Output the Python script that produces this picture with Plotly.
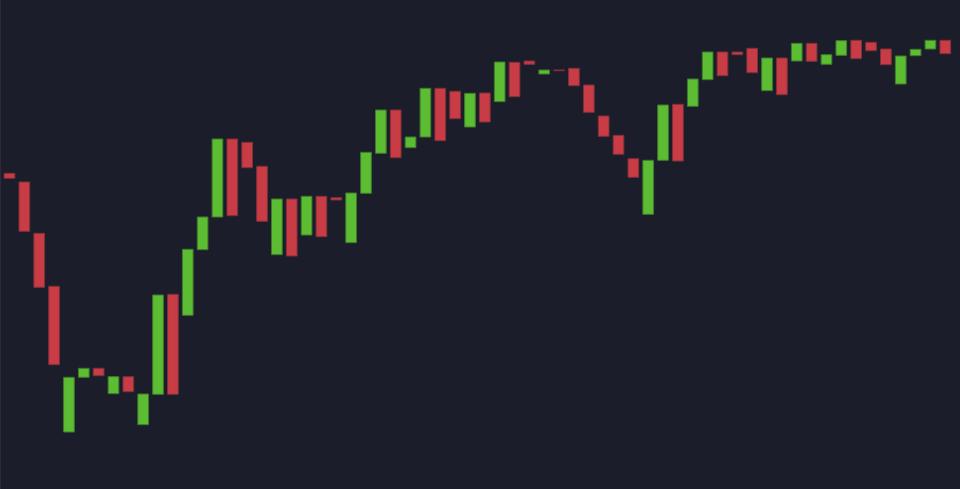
import plotly.graph_objects as go

# Candle index (daily sessions)
sessions = list(range(64))

opens = [32.67, 31.80, 26.67, 21.37, 6.80, 12.27, 13.17, 10.63, 12.33, 7.53,
         10.57, 20.57, 18.47, 25.03, 28.30, 36.10, 35.77, 33.37, 24.53, 30.10,
         26.50, 30.37, 30.23, 25.73, 30.67, 34.67, 39.00, 35.23, 36.30, 41.17,
         40.87, 37.30, 40.70, 39.83, 43.77, 43.90, 42.60, 43.00, 43.17, 41.50,
         38.40, 36.47, 34.13, 28.57, 33.97, 39.57, 39.37, 42.03, 44.80, 44.80,
         45.17, 40.93, 44.20, 43.90, 45.67, 43.57, 44.47, 45.97, 45.77, 45.10,
         41.60, 44.43, 45.10, 45.97]
closes = [32.17, 26.87, 21.27, 13.53, 12.27, 13.17, 12.43, 12.33, 10.83, 10.60,
          20.50, 10.57, 25.07, 28.30, 36.10, 28.43, 33.23, 27.87, 30.10, 24.40,
          30.37, 26.33, 30.00, 30.70, 34.77, 39.00, 34.23, 36.30, 41.17, 35.93,
          38.13, 40.67, 37.80, 43.80, 40.33, 43.57, 43.00, 42.93, 41.43, 38.77,
          36.37, 34.57, 32.27, 33.97, 39.50, 33.90, 42.10, 44.80, 42.43, 44.53,
          42.73, 44.20, 40.53, 45.67, 43.87, 44.53, 45.93, 44.13, 44.93, 43.53,
          44.40, 45.07, 45.97, 44.63]

UP_FILL, DOWN_FILL = "#5cbd32", "#c93c46"
UP_LINE, DOWN_LINE = "#3f7a2c", "#7e3139"
BG = "#1b1e2a"

bases = [min(o, c) for o, c in zip(opens, closes)]
heights = [abs(c - o) for o, c in zip(opens, closes)]
up = [c >= o for o, c in zip(opens, closes)]

fig = go.Figure(go.Bar(
    x=sessions,
    y=heights,
    base=bases,
    marker=dict(
        color=[UP_FILL if u else DOWN_FILL for u in up],
        line=dict(color=[UP_LINE if u else DOWN_LINE for u in up], width=1),
    ),
    hoverinfo="skip",
))

fig.update_layout(
    width=960, height=489,
    margin=dict(l=0, r=0, t=0, b=0),
    paper_bgcolor=BG, plot_bgcolor=BG,
    bargap=0.28,
    showlegend=False,
    xaxis=dict(range=[-0.64, 63.99], visible=False, fixedrange=True),
    yaxis=dict(range=[1.1, 50.0], visible=False, fixedrange=True),
    shapes=[dict(type="line", xref="paper", yref="paper", x0=0.0005, x1=0.0005,
                 y0=0, y1=1, line=dict(color="#2c2f38", width=1))],
)

fig.write_html(
    "out.html",
    config={"displayModeBar": False},
    post_script=(
        "document.body.style.margin='0';"
        "document.body.style.padding='0';"
        "document.body.style.overflow='hidden';"
        "document.body.style.background='" + BG + "';"
    ),
)
